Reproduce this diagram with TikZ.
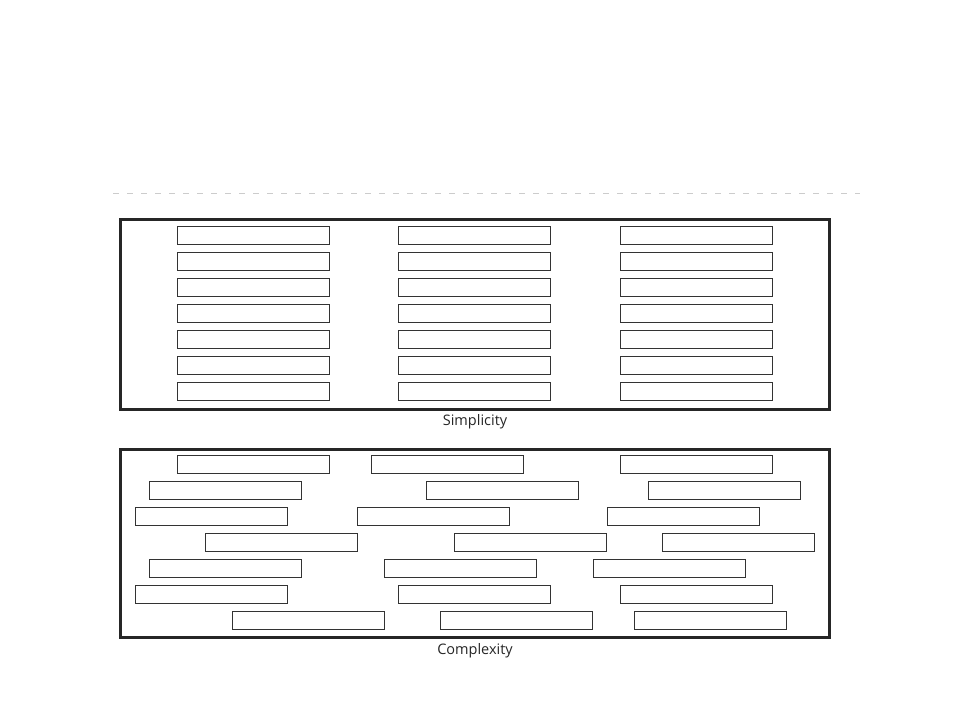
\documentclass[tikz,border=0pt]{standalone}
\usepackage{fontspec}
\setmainfont{Open Sans}
\begin{document}
\begin{tikzpicture}[x=1pt,y=-1pt,
  frame/.style={draw=black!85,line width=3pt},
  cell/.style={draw=black!80,line width=1pt,fill=white},
  lab/.style={font=\fontsize{14.5}{16}\selectfont,text=black!85}]
\useasboundingbox (0,0) rectangle (960,720);
\draw[black!20,dash pattern=on 6pt off 8pt] (113,193) -- (860,193);
\draw[frame] (120,219) rectangle (829,409);
\draw[frame] (120,449) rectangle (829,637);
\foreach \r in {0,...,6}{
  \foreach \x in {177,398,620}{
    \draw[cell] (\x,226+26*\r) rectangle ++(152,18);
  }
}
\foreach \r/\a/\b/\c in {0/177/371/620,1/149/426/648,2/135/357/607,3/205/454/662,4/149/384/593,5/135/398/620,6/232/440/634}{
  \draw[cell] (\a,455+26*\r) rectangle ++(152,18);
  \draw[cell] (\b,455+26*\r) rectangle ++(152,18);
  \draw[cell] (\c,455+26*\r) rectangle ++(152,18);
}
\node[lab] (s) at (475,422) {Simplicity};
\node[lab] (c) at (475,651) {Complexity};
\end{tikzpicture}
\end{document}
